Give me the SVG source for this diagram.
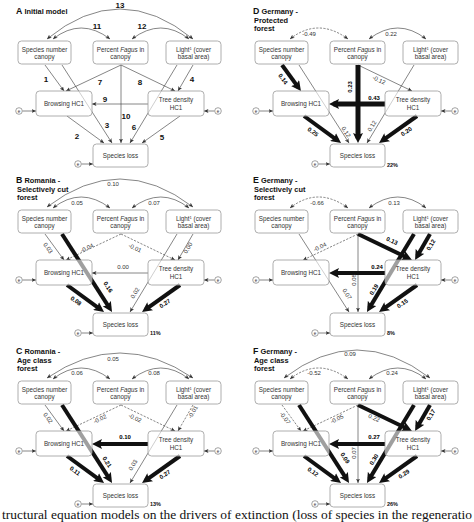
<svg xmlns="http://www.w3.org/2000/svg" width="474" height="522" viewBox="0 0 474 522">
<defs>
<marker id="ah" viewBox="0 0 10 10" refX="10" refY="5" markerWidth="4.5" markerHeight="4.5" markerUnits="userSpaceOnUse" orient="auto-start-reverse"><path d="M0,0.5 L10,5 L0,9.5 L2.5,5z" fill="#333"/></marker>
<marker id="ahb" viewBox="0 0 10 10" refX="5.5" refY="5" markerWidth="10" markerHeight="10" markerUnits="userSpaceOnUse" orient="auto"><path d="M0,0 L10,5 L0,10 L2,5z" fill="#111"/></marker>
</defs>
<style>
.bx{fill:#fff;fill-opacity:.6;stroke:#9a9a9a;stroke-width:.8}
.nt{font-family:"Liberation Sans",Arial,sans-serif;font-size:6.3px;fill:#333;text-anchor:middle}
.th{fill:none;stroke:#444;stroke-width:.65;marker-end:url(#ah)}
.arc{fill:none;stroke:#444;stroke-width:.65;marker-start:url(#ah);marker-end:url(#ah)}
.ds{stroke-dasharray:2.2 1.4}
.tk{fill:none;stroke:#111;stroke-width:4;marker-end:url(#ahb)}
.x5{stroke-width:5}
.lb{font-family:"Liberation Sans",Arial,sans-serif;font-size:6px;fill:#333;text-anchor:middle}
.bd{font-weight:bold;fill:#000}
.nm{font-family:"Liberation Sans",Arial,sans-serif;font-size:8px;font-weight:bold;fill:#111;text-anchor:middle}
.ttl{font-family:"Liberation Sans",Arial,sans-serif;font-size:7.4px;font-weight:bold;fill:#111}
.big{font-size:8.8px}
.pc{font-family:"Liberation Sans",Arial,sans-serif;font-size:5.5px;font-weight:bold;fill:#111}
.ec{fill:#fff;stroke:#666;stroke-width:.6}
.et{font-family:"Liberation Sans",Arial,sans-serif;font-size:4.5px;fill:#333;text-anchor:middle}
.cap{font-family:"Liberation Serif","Times New Roman",serif;font-size:12.5px;fill:#111}
</style>
<rect width="474" height="522" fill="#fff"/>

<!-- PANEL A -->
<g id="panelA">
<text class="ttl" x="16" y="14"><tspan class="big">A</tspan> Initial model</text>
<g id="A-connectors">
<path class="arc" d="M47,39 Q120,-21 193,39"/>
<path class="arc" d="M53,39 Q81,17 110,39"/>
<path class="arc" d="M132,39 Q161,17 189,39"/>
<path class="th" d="M45,65 L64,91"/>
<path class="th" d="M62,65 L112,143"/>
<path class="th" d="M121,65 L66,91"/>
<path class="th" d="M121,65 L121,143"/>
<path class="th" d="M121,65 L175,91"/>
<path class="th" d="M193,65 L178,91"/>
<path class="th" d="M177,65 L130,143"/>
<path class="th" d="M148,104 L92,104"/>
<path class="th" d="M67,116 L104,143"/>
<path class="th" d="M180,116 L142,143"/>
<path class="th" d="M22.5,111 L36,111"/>
<path class="th" d="M214.5,111 L204,111"/>
<path class="th" d="M81.5,164 L93,164"/>
<text class="nm" x="120" y="7.5">13</text>
<text class="nm" x="97" y="29">11</text>
<text class="nm" x="142" y="29">12</text>
<text class="nm" x="46" y="82">1</text>
<text class="nm" x="100" y="85">7</text>
<text class="nm" x="140" y="85">8</text>
<text class="nm" x="192" y="82">4</text>
<text class="nm" x="105" y="102">9</text>
<text class="nm" x="126" y="119">10</text>
<text class="nm" x="107" y="128">3</text>
<text class="nm" x="134" y="130">6</text>
<text class="nm" x="77" y="139">2</text>
<text class="nm" x="162" y="140">5</text>
</g>
<g id="A-sn"><rect class="bx" x="18" y="41" width="53" height="23" rx="3.5"/><text class="nt" x="44.5" y="51.5">Species number</text><text class="nt" x="44.5" y="59">canopy</text></g>
<g id="A-pf"><rect class="bx" x="93" y="41" width="55" height="23" rx="3.5"/><text class="nt" x="120.5" y="51.5">Percent <tspan font-style="italic">Fagus</tspan> in</text><text class="nt" x="120.5" y="59">canopy</text></g>
<g id="A-li"><rect class="bx" x="166" y="41" width="55" height="23" rx="3.5"/><text class="nt" x="193.5" y="51.5">Light<tspan font-size="4" dy="-2">1</tspan><tspan dy="2"> (cover</tspan></text><text class="nt" x="193.5" y="59">basal area)</text></g>
<g id="A-br"><rect class="bx" x="36" y="91" width="56" height="25" rx="3.5"/><text class="nt" x="64" y="105.5">Browsing HC1</text></g>
<g id="A-td"><rect class="bx" x="148" y="91" width="56" height="25" rx="3.5"/><text class="nt" x="176" y="101.5">Tree density</text><text class="nt" x="176" y="109.5">HC1</text></g>
<g id="A-sl"><rect class="bx" x="93" y="144" width="55" height="23" rx="3.5"/><text class="nt" x="120.5" y="158">Species loss</text></g>
<g id="A-e"><circle class="ec" cx="19" cy="111" r="3.3"/><text class="et" x="19" y="112.6">e</text><circle class="ec" cx="218" cy="111" r="3.3"/><text class="et" x="218" y="112.6">e</text><circle class="ec" cx="78" cy="164" r="3.3"/><text class="et" x="78" y="165.6">e</text></g>
</g>

<!-- PANEL D -->
<g id="panelD" transform="translate(237,0)">
<text class="ttl" x="16" y="14"><tspan class="big">D</tspan> Germany -</text>
<text class="ttl" x="17" y="22.5">Protected</text>
<text class="ttl" x="17" y="31">forest</text>
<g id="D-connectors">
<path class="arc ds" d="M53,39 Q81,17 111,39"/>
<path class="arc" d="M132,39 Q161,17 189,39"/>
<path class="th" d="M62,65 L112,143"/>
<path class="th" d="M121,65 L175,91"/>
<path class="th" d="M177,65 L130,143"/>
<path class="tk" d="M45,65 L61.3,87.4"/>
<path class="tk x5" d="M121,65 L121,138.5"/>
<path class="tk x5" d="M148,104 L96.5,104"/>
<path class="tk" d="M67,116 L100.4,140.3"/>
<path class="tk" d="M180,116 L145.7,140.4"/>
<path class="th" d="M22.5,111 L36,111"/>
<path class="th" d="M214.5,111 L204,111"/>
<path class="th" d="M81.5,164 L93,164"/>
<text class="lb" x="72" y="35.5">-0.49</text>
<text class="lb" x="154" y="35.5">0.22</text>
<text class="lb bd" transform="translate(46,79) rotate(54)" y="2">0.14</text>
<text class="lb" transform="translate(109,132) rotate(57)" y="2">0.12</text>
<text class="lb bd" transform="translate(113,87) rotate(-90)" y="2">0.23</text>
<text class="lb" transform="translate(142,80) rotate(25)" y="2">-0.12</text>
<text class="lb" transform="translate(135,126) rotate(-59)" y="2">0.12</text>
<text class="lb bd" x="137" y="99.5">0.43</text>
<text class="lb bd" transform="translate(76,132) rotate(36)" y="2">0.25</text>
<text class="lb bd" transform="translate(169.5,131.5) rotate(-35)" y="2">0.20</text>
</g>
<g id="D-sn"><rect class="bx" x="18" y="41" width="53" height="23" rx="3.5"/><text class="nt" x="44.5" y="51.5">Species number</text><text class="nt" x="44.5" y="59">canopy</text></g>
<g id="D-pf"><rect class="bx" x="93" y="41" width="55" height="23" rx="3.5"/><text class="nt" x="120.5" y="51.5">Percent <tspan font-style="italic">Fagus</tspan> in</text><text class="nt" x="120.5" y="59">canopy</text></g>
<g id="D-li"><rect class="bx" x="166" y="41" width="55" height="23" rx="3.5"/><text class="nt" x="193.5" y="51.5">Light<tspan font-size="4" dy="-2">1</tspan><tspan dy="2"> (cover</tspan></text><text class="nt" x="193.5" y="59">basal area)</text></g>
<g id="D-br"><rect class="bx" x="36" y="91" width="56" height="25" rx="3.5"/><text class="nt" x="64" y="105.5">Browsing HC1</text></g>
<g id="D-td"><rect class="bx" x="148" y="91" width="56" height="25" rx="3.5"/><text class="nt" x="176" y="101.5">Tree density</text><text class="nt" x="176" y="109.5">HC1</text></g>
<g id="D-sl"><rect class="bx" x="93" y="144" width="55" height="23" rx="3.5"/><text class="nt" x="120.5" y="158">Species loss</text><text class="pc" x="150" y="167">22%</text></g>
<g id="D-e"><circle class="ec" cx="19" cy="111" r="3.3"/><text class="et" x="19" y="112.6">e</text><circle class="ec" cx="218" cy="111" r="3.3"/><text class="et" x="218" y="112.6">e</text><circle class="ec" cx="78" cy="164" r="3.3"/><text class="et" x="78" y="165.6">e</text></g>
</g>

<!-- PANEL B -->
<g id="panelB" transform="translate(0,169)">
<text class="ttl" x="16" y="14"><tspan class="big">B</tspan> Romania -</text>
<text class="ttl" x="17" y="22.5">Selectively cut</text>
<text class="ttl" x="17" y="31">forest</text>
<g id="B-connectors">
<path class="arc" d="M47,38 Q120,-18 193,38"/>
<path class="arc" d="M53,39 Q81,17 110,39"/>
<path class="arc" d="M132,39 Q161,17 189,39"/>
<path class="th" d="M45,65 L64,91"/>
<path class="th ds" d="M121,65 L66,91"/>
<path class="th ds" d="M121,65 L175,91"/>
<path class="th" d="M193,65 L178,91"/>
<path class="th" d="M177,65 L130,143"/>
<path class="th" d="M148,104 L92,104"/>
<path class="tk" d="M62,65 L109.6,139.2"/>
<path class="tk" d="M67,116 L100.4,140.3"/>
<path class="tk" d="M180,116 L145.7,140.4"/>
<path class="th" d="M22.5,111 L36,111"/>
<path class="th" d="M214.5,111 L204,111"/>
<path class="th" d="M81.5,164 L93,164"/>
<text class="lb" x="113" y="17">0.10</text>
<text class="lb" x="77" y="35.5">0.05</text>
<text class="lb" x="154" y="35.5">0.07</text>
<text class="lb" transform="translate(48,79) rotate(54)" y="2">0.03</text>
<text class="lb bd" transform="translate(108,118) rotate(57)" y="2">0.16</text>
<text class="lb" transform="translate(87,79) rotate(-26)" y="2">-0.04</text>
<text class="lb" transform="translate(135,79) rotate(25)" y="2">-0.01</text>
<text class="lb" transform="translate(188,79) rotate(-60)" y="2">0.00</text>
<text class="lb" transform="translate(135,124) rotate(-59)" y="2">0.02</text>
<text class="lb" x="123" y="99.5">0.00</text>
<text class="lb bd" transform="translate(76,132) rotate(36)" y="2">0.08</text>
<text class="lb bd" transform="translate(165,134.5) rotate(-35)" y="2">0.27</text>
</g>
<g id="B-sn"><rect class="bx" x="18" y="41" width="53" height="23" rx="3.5"/><text class="nt" x="44.5" y="51.5">Species number</text><text class="nt" x="44.5" y="59">canopy</text></g>
<g id="B-pf"><rect class="bx" x="93" y="41" width="55" height="23" rx="3.5"/><text class="nt" x="120.5" y="51.5">Percent <tspan font-style="italic">Fagus</tspan> in</text><text class="nt" x="120.5" y="59">canopy</text></g>
<g id="B-li"><rect class="bx" x="166" y="41" width="55" height="23" rx="3.5"/><text class="nt" x="193.5" y="51.5">Light<tspan font-size="4" dy="-2">1</tspan><tspan dy="2"> (cover</tspan></text><text class="nt" x="193.5" y="59">basal area)</text></g>
<g id="B-br"><rect class="bx" x="36" y="91" width="56" height="25" rx="3.5"/><text class="nt" x="64" y="105.5">Browsing HC1</text></g>
<g id="B-td"><rect class="bx" x="148" y="91" width="56" height="25" rx="3.5"/><text class="nt" x="176" y="101.5">Tree density</text><text class="nt" x="176" y="109.5">HC1</text></g>
<g id="B-sl"><rect class="bx" x="93" y="144" width="55" height="23" rx="3.5"/><text class="nt" x="120.5" y="158">Species loss</text><text class="pc" x="150" y="166">11%</text></g>
<g id="B-e"><circle class="ec" cx="19" cy="111" r="3.3"/><text class="et" x="19" y="112.6">e</text><circle class="ec" cx="218" cy="111" r="3.3"/><text class="et" x="218" y="112.6">e</text><circle class="ec" cx="78" cy="164" r="3.3"/><text class="et" x="78" y="165.6">e</text></g>
</g>

<!-- PANEL E -->
<g id="panelE" transform="translate(237,169)">
<text class="ttl" x="16" y="14"><tspan class="big">E</tspan> Germany -</text>
<text class="ttl" x="17" y="22.5">Selectively cut</text>
<text class="ttl" x="17" y="31">forest</text>
<g id="E-connectors">
<path class="arc ds" d="M53,39 Q81,17 111,39"/>
<path class="arc" d="M132,39 Q161,17 189,39"/>
<path class="th" d="M62,65 L112,143"/>
<path class="th ds" d="M121,65 L66,91"/>
<path class="th" d="M121,65 L121,143"/>
<path class="tk" d="M121,65 L170.9,89"/>
<path class="tk" d="M193,65 L180.3,87.1"/>
<path class="tk" d="M177,65 L132.3,139.1"/>
<path class="tk" d="M148,104 L96.5,104"/>
<path class="tk" d="M180,116 L145.7,140.4"/>
<path class="th" d="M22.5,111 L36,111"/>
<path class="th" d="M214.5,111 L204,111"/>
<path class="th" d="M81.5,164 L93,164"/>
<text class="lb" x="80" y="35.5">-0.66</text>
<text class="lb" x="157" y="35.5">0.13</text>
<text class="lb" transform="translate(110,125) rotate(57)" y="2">0.07</text>
<text class="lb" transform="translate(83,78) rotate(-26)" y="2">-0.04</text>
<text class="lb" transform="translate(117,111) rotate(-90)" y="2">0.08</text>
<text class="lb bd" transform="translate(155,72) rotate(25)" y="2">0.13</text>
<text class="lb bd" transform="translate(194,76) rotate(-60)" y="2">0.12</text>
<text class="lb bd" transform="translate(137,120.5) rotate(-59)" y="2">0.19</text>
<text class="lb bd" x="140" y="99.5">0.24</text>
<text class="lb bd" transform="translate(165.5,134.5) rotate(-35)" y="2">0.15</text>
</g>
<g id="E-sn"><rect class="bx" x="18" y="41" width="53" height="23" rx="3.5"/><text class="nt" x="44.5" y="51.5">Species number</text><text class="nt" x="44.5" y="59">canopy</text></g>
<g id="E-pf"><rect class="bx" x="93" y="41" width="55" height="23" rx="3.5"/><text class="nt" x="120.5" y="51.5">Percent <tspan font-style="italic">Fagus</tspan> in</text><text class="nt" x="120.5" y="59">canopy</text></g>
<g id="E-li"><rect class="bx" x="166" y="41" width="55" height="23" rx="3.5"/><text class="nt" x="193.5" y="51.5">Light<tspan font-size="4" dy="-2">1</tspan><tspan dy="2"> (cover</tspan></text><text class="nt" x="193.5" y="59">basal area)</text></g>
<g id="E-br"><rect class="bx" x="36" y="91" width="56" height="25" rx="3.5"/><text class="nt" x="64" y="105.5">Browsing HC1</text></g>
<g id="E-td"><rect class="bx" x="148" y="91" width="56" height="25" rx="3.5"/><text class="nt" x="176" y="101.5">Tree density</text><text class="nt" x="176" y="109.5">HC1</text></g>
<g id="E-sl"><rect class="bx" x="93" y="144" width="55" height="23" rx="3.5"/><text class="nt" x="120.5" y="158">Species loss</text><text class="pc" x="150" y="166">8%</text></g>
<g id="E-e"><circle class="ec" cx="19" cy="111" r="3.3"/><text class="et" x="19" y="112.6">e</text><circle class="ec" cx="218" cy="111" r="3.3"/><text class="et" x="218" y="112.6">e</text><circle class="ec" cx="78" cy="164" r="3.3"/><text class="et" x="78" y="165.6">e</text></g>
</g>

<!-- PANEL C -->
<g id="panelC" transform="translate(0,340)">
<text class="ttl" x="16" y="14"><tspan class="big">C</tspan> Romania -</text>
<text class="ttl" x="17" y="22.5">Age class</text>
<text class="ttl" x="17" y="31">forest</text>
<g id="C-connectors">
<path class="arc" d="M47,38 Q120,-12 193,38"/>
<path class="arc" d="M53,39 Q81,17 110,39"/>
<path class="arc" d="M132,39 Q161,17 189,39"/>
<path class="th" d="M45,65 L64,91"/>
<path class="th ds" d="M121,65 L66,91"/>
<path class="th ds" d="M121,65 L175,91"/>
<path class="th ds" d="M193,65 L178,91"/>
<path class="th" d="M177,65 L130,143"/>
<path class="tk" d="M148,104 L96.5,104"/>
<path class="tk" d="M62,65 L109.6,139.2"/>
<path class="tk" d="M67,116 L100.4,140.3"/>
<path class="tk" d="M180,116 L145.7,140.4"/>
<path class="th" d="M22.5,111 L36,111"/>
<path class="th" d="M214.5,111 L204,111"/>
<path class="th" d="M81.5,164 L93,164"/>
<text class="lb" x="113" y="21">0.05</text>
<text class="lb" x="77" y="35">0.06</text>
<text class="lb" x="154" y="35">0.08</text>
<text class="lb" transform="translate(48,78) rotate(54)" y="2">0.02</text>
<text class="lb bd" transform="translate(107,122) rotate(57)" y="2">0.21</text>
<text class="lb" transform="translate(100,79) rotate(-26)" y="2">-0.02</text>
<text class="lb" transform="translate(135,78) rotate(25)" y="2">-0.02</text>
<text class="lb" transform="translate(193,72) rotate(-60)" y="2">-0.01</text>
<text class="lb" transform="translate(133,125) rotate(-59)" y="2">0.03</text>
<text class="lb bd" x="125" y="99">0.10</text>
<text class="lb bd" transform="translate(75,131) rotate(36)" y="2">0.11</text>
<text class="lb bd" transform="translate(165,134.5) rotate(-35)" y="2">0.27</text>
</g>
<g id="C-sn"><rect class="bx" x="18" y="41" width="53" height="23" rx="3.5"/><text class="nt" x="44.5" y="51.5">Species number</text><text class="nt" x="44.5" y="59">canopy</text></g>
<g id="C-pf"><rect class="bx" x="93" y="41" width="55" height="23" rx="3.5"/><text class="nt" x="120.5" y="51.5">Percent <tspan font-style="italic">Fagus</tspan> in</text><text class="nt" x="120.5" y="59">canopy</text></g>
<g id="C-li"><rect class="bx" x="166" y="41" width="55" height="23" rx="3.5"/><text class="nt" x="193.5" y="51.5">Light<tspan font-size="4" dy="-2">1</tspan><tspan dy="2"> (cover</tspan></text><text class="nt" x="193.5" y="59">basal area)</text></g>
<g id="C-br"><rect class="bx" x="36" y="91" width="56" height="25" rx="3.5"/><text class="nt" x="64" y="105.5">Browsing HC1</text></g>
<g id="C-td"><rect class="bx" x="148" y="91" width="56" height="25" rx="3.5"/><text class="nt" x="176" y="101.5">Tree density</text><text class="nt" x="176" y="109.5">HC1</text></g>
<g id="C-sl"><rect class="bx" x="93" y="144" width="55" height="23" rx="3.5"/><text class="nt" x="120.5" y="158">Species loss</text><text class="pc" x="150" y="166">13%</text></g>
<g id="C-e"><circle class="ec" cx="19" cy="111" r="3.3"/><text class="et" x="19" y="112.6">e</text><circle class="ec" cx="218" cy="111" r="3.3"/><text class="et" x="218" y="112.6">e</text><circle class="ec" cx="78" cy="164" r="3.3"/><text class="et" x="78" y="165.6">e</text></g>
</g>

<!-- PANEL F -->
<g id="panelF" transform="translate(237,340)">
<text class="ttl" x="16" y="14"><tspan class="big">F</tspan> Germany -</text>
<text class="ttl" x="17" y="22.5">Age class</text>
<text class="ttl" x="17" y="31">forest</text>
<g id="F-connectors">
<path class="arc" d="M47,38 Q120,-18 193,38"/>
<path class="arc ds" d="M53,39 Q81,17 111,39"/>
<path class="arc" d="M132,39 Q161,17 189,39"/>
<path class="th ds" d="M45,65 L64,91"/>
<path class="th ds" d="M121,65 L66,91"/>
<path class="th" d="M121,65 L121,143"/>
<path class="tk" d="M62,65 L109.6,139.2"/>
<path class="tk" d="M121,65 L170.9,89"/>
<path class="tk" d="M193,65 L180.3,87.1"/>
<path class="tk" d="M177,65 L132.3,139.1"/>
<path class="tk" d="M148,104 L96.5,104"/>
<path class="tk" d="M67,116 L100.4,140.3"/>
<path class="tk" d="M180,116 L145.7,140.4"/>
<path class="th" d="M22.5,111 L36,111"/>
<path class="th" d="M214.5,111 L204,111"/>
<path class="th" d="M81.5,164 L93,164"/>
<text class="lb" x="113" y="16">0.09</text>
<text class="lb" x="77" y="34.5">-0.52</text>
<text class="lb" x="155" y="34.5">0.24</text>
<text class="lb" transform="translate(48,78) rotate(54)" y="2">-0.07</text>
<text class="lb bd" transform="translate(108,118) rotate(57)" y="2">0.09</text>
<text class="lb" transform="translate(100,79) rotate(-26)" y="2">-0.05</text>
<text class="lb" transform="translate(117,113) rotate(-90)" y="2">0.07</text>
<text class="lb" transform="translate(137,78) rotate(25)" y="2">0.22</text>
<text class="lb bd" transform="translate(194,75) rotate(-60)" y="2">0.17</text>
<text class="lb bd" transform="translate(137,119.5) rotate(-59)" y="2">0.30</text>
<text class="lb bd" x="137" y="99">0.27</text>
<text class="lb bd" transform="translate(76,132) rotate(36)" y="2">0.12</text>
<text class="lb bd" transform="translate(167,134) rotate(-35)" y="2">0.29</text>
</g>
<g id="F-sn"><rect class="bx" x="18" y="41" width="53" height="23" rx="3.5"/><text class="nt" x="44.5" y="51.5">Species number</text><text class="nt" x="44.5" y="59">canopy</text></g>
<g id="F-pf"><rect class="bx" x="93" y="41" width="55" height="23" rx="3.5"/><text class="nt" x="120.5" y="51.5">Percent <tspan font-style="italic">Fagus</tspan> in</text><text class="nt" x="120.5" y="59">canopy</text></g>
<g id="F-li"><rect class="bx" x="166" y="41" width="55" height="23" rx="3.5"/><text class="nt" x="193.5" y="51.5">Light<tspan font-size="4" dy="-2">1</tspan><tspan dy="2"> (cover</tspan></text><text class="nt" x="193.5" y="59">basal area)</text></g>
<g id="F-br"><rect class="bx" x="36" y="91" width="56" height="25" rx="3.5"/><text class="nt" x="64" y="105.5">Browsing HC1</text></g>
<g id="F-td"><rect class="bx" x="148" y="91" width="56" height="25" rx="3.5"/><text class="nt" x="176" y="101.5">Tree density</text><text class="nt" x="176" y="109.5">HC1</text></g>
<g id="F-sl"><rect class="bx" x="93" y="144" width="55" height="23" rx="3.5"/><text class="nt" x="120.5" y="158">Species loss</text><text class="pc" x="150" y="166">26%</text></g>
<g id="F-e"><circle class="ec" cx="19" cy="111" r="3.3"/><text class="et" x="19" y="112.6">e</text><circle class="ec" cx="218" cy="111" r="3.3"/><text class="et" x="218" y="112.6">e</text><circle class="ec" cx="78" cy="164" r="3.3"/><text class="et" x="78" y="165.6">e</text></g>
</g>

<text class="cap" x="2" y="518.5" textLength="470" lengthAdjust="spacingAndGlyphs">tructural equation models on the drivers of extinction (loss of species in the regeneratio</text>
</svg>
